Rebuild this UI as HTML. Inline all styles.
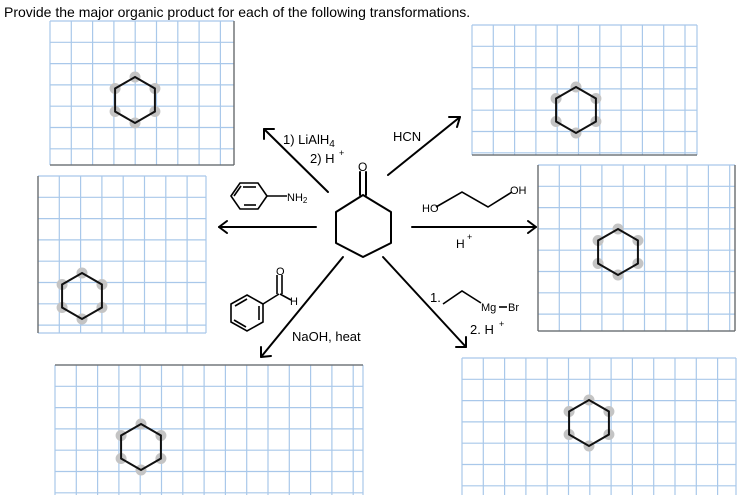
<!DOCTYPE html>
<html><head><meta charset="utf-8"><style>
body{margin:0;background:#fff;width:750px;height:495px;overflow:hidden}
svg{display:block}
text{font-family:"Liberation Sans",Arial,sans-serif;fill:#000}
</style></head><body>
<svg id="s" width="750" height="495" viewBox="0 0 750 495" xmlns="http://www.w3.org/2000/svg">
<text x="4" y="17" font-size="14">Provide the major organic product for each of the following transformations.</text>
<g id="boxes"></g>
<g stroke="#000" stroke-width="2" fill="none" stroke-linecap="round" stroke-linejoin="round">
<polygon points="363,195 391,212 391,243 363,257 336,243 336,212"/>
<line x1="360" y1="195" x2="360" y2="172"/><line x1="366" y1="195" x2="366" y2="172"/>
<line x1="328" y1="192" x2="264" y2="129"/><polyline points="264,139 264,129 274,129"/>
<line x1="388" y1="175" x2="460" y2="117"/><polyline points="449,117 460,117 457,127"/>
<line x1="316" y1="227" x2="219" y2="227"/><polyline points="227,221 219,227 227,233"/>
<line x1="412" y1="227" x2="536" y2="227"/><polyline points="528,221 536,227 528,233"/>
<line x1="343" y1="257" x2="261" y2="357"/><polyline points="261,347 261,357 271,356"/>
<line x1="383" y1="257" x2="466" y2="347"/><polyline points="456,347 466,347 466,337"/>
</g>
<g stroke="#000" stroke-width="1.6" fill="none">
<polygon points="231,196 240,183 258,183 267,196 258,209 240,209"/>
<line x1="243" y1="187" x2="256" y2="187"/><line x1="244" y1="205" x2="256" y2="205"/><line x1="234" y1="196" x2="241" y2="186"/>
<line x1="267" y1="196" x2="287" y2="196"/>
<polyline points="436,207 462,192 488,207 512,192"/>
<!-- benzaldehyde -->
<polygon points="247,295 263,304 263,322 247,331 231,322 231,304"/>
<line x1="259" y1="306" x2="259" y2="320"/><line x1="246" y1="327" x2="234" y2="320"/><line x1="235" y1="306" x2="247" y2="299"/>
<line x1="263" y1="304" x2="279" y2="294"/><line x1="277" y1="294" x2="277" y2="275"/><line x1="282" y1="294" x2="282" y2="275"/>
<line x1="280" y1="294" x2="291" y2="300"/>
<polyline points="443,304 462,291 481,303"/><line x1="499" y1="307" x2="507" y2="307"/>
</g>
<g font-size="13">
<text x="283" y="144">1) LiAlH<tspan font-size="10" dy="3">4</tspan></text>
<text x="310" y="163">2) H</text><text x="339" y="156" font-size="9">+</text>
<text x="393" y="141">HCN</text>
<text x="358" y="171" font-size="12">O</text>
<text x="287" y="201" font-size="11">NH<tspan font-size="8" dy="2">2</tspan></text>
<text x="422" y="212" font-size="11">HO</text>
<text x="510" y="194" font-size="11">OH</text>
<text x="456" y="248" font-size="12">H</text><text x="467" y="240" font-size="9">+</text>
<text x="276" y="275" font-size="11">O</text>
<text x="290" y="305" font-size="11">H</text>
<text x="292" y="341">NaOH, heat</text>
<text x="430" y="302">1.</text>
<text x="481" y="311" font-size="11">Mg</text><text x="508" y="311" font-size="11">Br</text>
<text x="470" y="334">2. H</text><text x="499" y="327" font-size="9">+</text>
</g>
</svg>
<script>
const g=document.getElementById('boxes');const NS='http://www.w3.org/2000/svg';
function el(t,a){const e=document.createElementNS(NS,t);for(const k in a)e.setAttribute(k,a[k]);g.appendChild(e);return e;}
const boxes=[
 [50,21,234,165,135,100,'rb'],
 [472,25,697,155,576,110,'b'],
 [38,176,206,333,82,296,'l'],
 [538,165,735,331,618,252,'lrb'],
 [55,365,363,500,141,447,'t'],
 [462,358,736,500,589,423,'']
];
const sp=21.3;
for(const [x1,y1,x2,y2,cx,cy,b] of boxes){
 for(let x=x1;x<=x2+0.1;x+=sp)el('line',{x1:x,y1:y1,x2:x,y2:y2,stroke:'#a9c8ea','stroke-width':1.2});
 for(let y=y1;y<=y2+0.1;y+=sp)el('line',{x1:x1,y1:y,x2:x2,y2:y,stroke:'#a9c8ea','stroke-width':1.2});
 el('line',{x1:x2,y1:y1,x2:x2,y2:y2,stroke:'#a9c8ea','stroke-width':1.2});
 el('line',{x1:x1,y1:y2,x2:x2,y2:y2,stroke:'#a9c8ea','stroke-width':1.2});
 const s='#666';
 if(b.includes('r'))el('line',{x1:x2,y1:y1,x2:x2,y2:y2,stroke:s,'stroke-width':1.3});
 if(b.includes('b'))el('line',{x1:x1,y1:y2,x2:x2,y2:y2,stroke:s,'stroke-width':1.3});
 if(b.includes('l'))el('line',{x1:x1,y1:y1,x2:x1,y2:y2,stroke:s,'stroke-width':1.3});
 if(b.includes('t'))el('line',{x1:x1,y1:y1,x2:x2,y2:y1,stroke:s,'stroke-width':1.3});
 const r=23,pts=[];
 for(let i=0;i<6;i++){const a=-Math.PI/2+i*Math.PI/3;pts.push([cx+r*Math.cos(a),cy+r*Math.sin(a)]);}
 for(const p of pts)el('circle',{cx:p[0],cy:p[1],r:5.5,fill:'#c4c4c4'});
 el('polygon',{points:pts.map(p=>p.join(',')).join(' '),fill:'none',stroke:'#111','stroke-width':2});
}
</script>
</body></html>
